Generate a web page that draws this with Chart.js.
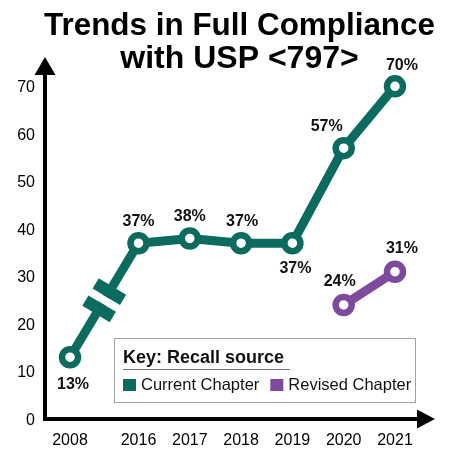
<!DOCTYPE html>
<html lang="en">
<head>
    <meta charset="UTF-8">
    <title>Trends in Full Compliance with USP &lt;797&gt;</title>
    <script src="https://cdn.jsdelivr.net/npm/chart.js"></script>
    <style>
        html, body {
            margin: 0;
            padding: 0;
            background: #fff;
            overflow: hidden;
        }
        .chart-box {
            position: relative;
            width: 452px;
            height: 464px;
        }
    </style>
</head>
<body>
    <div class="chart-box">
        <canvas id="complianceChart"></canvas>
    </div>

    <script>
        // Data
        const years = ['2008', '2016', '2017', '2018', '2019', '2020', '2021'];
        // slot of each year on the x axis (2008 sits before a broken gap)
        const xSlots = [0, 1.335, 2.335, 3.335, 4.335, 5.335, 6.335];
        const currentChapter = [13, 37, 38, 37, 37, 57, 70];
        const revisedChapter = [null, null, null, null, null, 24, 31];
        const yTicks = [0, 10, 20, 30, 40, 50, 60, 70];

        const TEAL = '#0c6b5f';
        const PURPLE = '#7e4a9e';
        const FONT = "'Liberation Sans', Arial, sans-serif";

        Chart.defaults.font.family = FONT;
        Chart.defaults.color = '#000';

        function toPoints(values) {
            const pts = [];
            values.forEach((v, i) => {
                if (v !== null) pts.push({ x: xSlots[i], y: v });
            });
            return pts;
        }

        // label offsets (dx, dy) from each point, per dataset
        const labelOffsets = [
            [[3, 27], [0, -22], [0, -22], [1, -22], [3, 25], [-17, -22], [7, -21]],
            [[-4, -23], [7, -23]]
        ];

        // axes drawn as thick lines with arrowheads
        const arrowAxes = {
            id: 'arrowAxes',
            beforeDatasetsDraw(chart) {
                const { ctx, chartArea: a } = chart;
                ctx.save();
                ctx.fillStyle = '#000';
                // y axis
                ctx.fillRect(a.left - 1, a.top - 2, 4, a.bottom - a.top + 4);
                ctx.beginPath();
                ctx.moveTo(a.left + 1, a.top - 19);
                ctx.lineTo(a.left + 11.5, a.top - 1);
                ctx.lineTo(a.left - 9.5, a.top - 1);
                ctx.closePath();
                ctx.fill();
                // x axis
                ctx.fillRect(a.left - 1, a.bottom - 2, a.right - a.left - 17, 4);
                ctx.beginPath();
                ctx.moveTo(a.right, a.bottom);
                ctx.lineTo(a.right - 18, a.bottom - 9.5);
                ctx.lineTo(a.right - 18, a.bottom + 9.5);
                ctx.closePath();
                ctx.fill();
                ctx.restore();
            }
        };

        // break symbol on the 2008 -> 2016 segment
        const axisBreak = {
            id: 'axisBreak',
            afterDatasetsDraw(chart) {
                const pts = chart.getDatasetMeta(0).data;
                if (pts.length < 2) return;
                const p0 = pts[0], p1 = pts[1];
                const mx = (p0.x + p1.x) / 2, my = (p0.y + p1.y) / 2;
                const ang = Math.atan2(p1.y - p0.y, p1.x - p0.x);
                const ctx = chart.ctx;
                ctx.save();
                ctx.translate(mx, my);
                ctx.rotate(ang);
                ctx.fillStyle = '#fff';
                ctx.fillRect(-4, -8, 8, 16);
                ctx.fillStyle = TEAL;
                ctx.fillRect(-16, -16, 12, 32);
                ctx.fillRect(4, -16, 12, 32);
                ctx.restore();
            }
        };

        // percentage labels next to points
        const valueLabels = {
            id: 'valueLabels',
            afterDatasetsDraw(chart) {
                const ctx = chart.ctx;
                ctx.save();
                ctx.font = 'bold 16px ' + FONT;
                ctx.fillStyle = '#111';
                ctx.textAlign = 'center';
                ctx.textBaseline = 'middle';
                chart.data.datasets.forEach((ds, di) => {
                    chart.getDatasetMeta(di).data.forEach((el, i) => {
                        const off = labelOffsets[di][i] || [0, -22];
                        ctx.fillText(ds.data[i].y + '%', el.x + off[0], el.y + off[1]);
                    });
                });
                ctx.restore();
            }
        };

        // boxed key with a title rule
        const keyBox = {
            id: 'keyBox',
            afterDraw(chart) {
                const { ctx, chartArea: a } = chart;
                const x0 = a.left + 70, y0 = a.bottom - 81;
                ctx.save();
                ctx.fillStyle = '#fff';
                ctx.fillRect(x0, y0, 301, 64);
                ctx.strokeStyle = '#a0a0a0';
                ctx.lineWidth = 1;
                ctx.strokeRect(x0 + 0.5, y0 + 0.5, 301, 64);

                ctx.fillStyle = '#111';
                ctx.textAlign = 'left';
                ctx.textBaseline = 'middle';
                ctx.font = 'bold 18px ' + FONT;
                ctx.fillText('Key: Recall source', x0 + 9, y0 + 20);

                ctx.strokeStyle = '#777';
                ctx.beginPath();
                ctx.moveTo(x0 + 9, y0 + 31.5);
                ctx.lineTo(x0 + 176, y0 + 31.5);
                ctx.stroke();

                ctx.font = '16.5px ' + FONT;
                let x = x0 + 9;
                const yMid = y0 + 47;
                chart.data.datasets.forEach(ds => {
                    ctx.fillStyle = ds.borderColor;
                    ctx.fillRect(x, yMid - 6, 13, 12);
                    x += 18;
                    ctx.fillStyle = '#111';
                    ctx.fillText(ds.label, x, yMid);
                    x += ctx.measureText(ds.label).width + 11;
                });
                ctx.restore();
            }
        };

        const lineStyle = {
            borderWidth: 9,
            pointRadius: 8,
            pointHoverRadius: 8,
            pointBorderWidth: 6.5,
            pointBackgroundColor: '#fff',
            clip: false,
            tension: 0
        };

        const ctx = document.getElementById('complianceChart').getContext('2d');
        const chart = new Chart(ctx, {
            type: 'line',
            data: {
                datasets: [
                    Object.assign({
                        label: 'Current Chapter',
                        data: toPoints(currentChapter),
                        borderColor: TEAL,
                        pointBorderColor: TEAL
                    }, lineStyle),
                    Object.assign({
                        label: 'Revised Chapter',
                        data: toPoints(revisedChapter),
                        borderColor: PURPLE,
                        pointBorderColor: PURPLE
                    }, lineStyle)
                ]
            },
            options: {
                responsive: true,
                maintainAspectRatio: false,
                animation: false,
                events: [],
                layout: { padding: { left: 0, right: 17, top: 0, bottom: 0 } },
                plugins: {
                    legend: { display: false },
                    tooltip: { enabled: false },
                    title: {
                        display: true,
                        fullSize: false,
                        text: ['Trends in Full Compliance', 'with USP <797>'],
                        color: '#000',
                        font: { size: 32, weight: 'bold', lineHeight: 1.03 },
                        padding: { top: 10, bottom: 0 }
                    }
                },
                scales: {
                    x: {
                        type: 'linear',
                        min: -0.507,
                        max: 7.115,
                        grid: { display: false, drawTicks: false },
                        border: { display: false },
                        afterBuildTicks: s => { s.ticks = xSlots.map(v => ({ value: v })); },
                        afterFit: s => { s.height = 45; },
                        ticks: {
                            autoSkip: false,
                            maxRotation: 0,
                            padding: 12,
                            font: { size: 16 },
                            color: '#000',
                            callback: (v, i) => years[i]
                        }
                    },
                    y: {
                        min: 0,
                        max: 72.2,
                        grid: { display: false, drawTicks: false },
                        border: { display: false },
                        afterBuildTicks: s => { s.ticks = yTicks.map(v => ({ value: v })); },
                        afterFit: s => { s.width = 44; },
                        ticks: {
                            padding: 9,
                            labelOffset: 1.5,
                            font: { size: 16 },
                            color: '#000'
                        }
                    }
                }
            },
            plugins: [arrowAxes, axisBreak, valueLabels, keyBox]
        });
    </script>
</body>
</html>
